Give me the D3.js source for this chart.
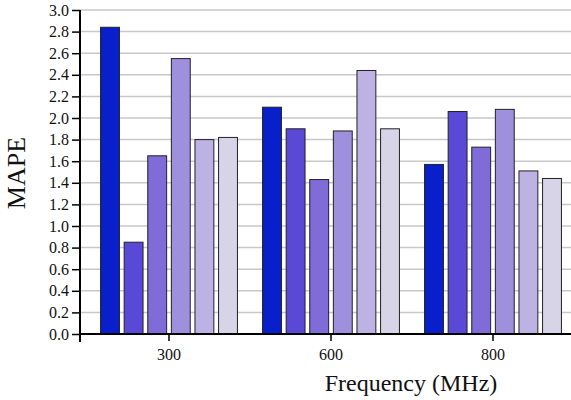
<!DOCTYPE html>
<meta charset="utf-8">
<script src="https://d3js.org/d3.v7.min.js"></script>
<style>
  body { margin: 0; background: #fff; }
</style>
<div id="chart"></div>
<script>
// data
var frequencies = ["300", "600", "800"];
var seriesNames = ["s1", "s2", "s3", "s4", "s5", "s6"];
var s1 = [2.84, 2.10, 1.57];
var s2 = [0.85, 1.90, 2.06];
var s3 = [1.65, 1.43, 1.73];
var s4 = [2.55, 1.88, 2.08];
var s5 = [1.80, 2.44, 1.51];
var s6 = [1.82, 1.90, 1.44];
var yTicks = [0, 0.2, 0.4, 0.6, 0.8, 1.0, 1.2, 1.4, 1.6, 1.8, 2.0, 2.2, 2.4, 2.6, 2.8, 3.0];

var colors = ["#0a1fcc", "#5a48d6", "#7f6cd9", "#9f90de", "#bcb2e4", "#d8d4e8"];
var series = [s1, s2, s3, s4, s5, s6];

var width = 571, height = 400;
var plotLeft = 80, plotTop = 10, plotBottom = 334;
var serif = "'Liberation Serif', 'Times New Roman', serif";

var svg = d3.select("#chart").append("svg")
    .attr("width", width)
    .attr("height", height)
    .attr("font-family", serif);

var y = d3.scaleLinear().domain([0, 3]).range([plotBottom, plotTop]);

var x0 = d3.scaleBand()
    .domain(frequencies)
    .range([88, 574])
    .paddingInner(0.155)
    .paddingOuter(0.0775);

var x1 = d3.scaleBand()
    .domain(seriesNames)
    .range([0, x0.bandwidth()])
    .paddingInner(0.2);

// grid lines
svg.append("g")
  .selectAll("line")
  .data(yTicks.slice(1))
  .join("line")
    .attr("x1", plotLeft)
    .attr("x2", width)
    .attr("y1", function(d) { return y(d); })
    .attr("y2", function(d) { return y(d); })
    .attr("stroke", "#c8c8c8")
    .attr("stroke-width", 1.5);

// bars
var groups = svg.append("g")
  .selectAll("g")
  .data(frequencies)
  .join("g")
    .attr("transform", function(d) { return "translate(" + x0(d) + ",0)"; });

groups.selectAll("rect")
  .data(function(d, i) {
    return series.map(function(s, j) { return {key: seriesNames[j], value: s[i], c: colors[j]}; });
  })
  .join("rect")
    .attr("x", function(d) { return x1(d.key); })
    .attr("y", function(d) { return y(d.value); })
    .attr("width", x1.bandwidth())
    .attr("height", function(d) { return y(0) - y(d.value); })
    .attr("fill", function(d) { return d.c; })
    .attr("stroke", "#222")
    .attr("stroke-width", 1);

// y axis
var yAxis = svg.append("g")
    .attr("transform", "translate(" + plotLeft + ",0)")
    .call(d3.axisLeft(y).tickValues(yTicks).tickFormat(d3.format(".1f")).tickSize(8).tickPadding(3))
    .attr("font-family", serif)
    .attr("font-size", 16);
yAxis.select(".domain").attr("stroke", "#000").attr("stroke-width", 2).attr("d", "M0," + plotTop + "V" + (plotBottom + 8));
yAxis.selectAll(".tick line").attr("stroke-width", 1.5);
yAxis.selectAll("text").attr("fill", "#111");

// x axis
var xAxis = svg.append("g")
    .attr("transform", "translate(0," + plotBottom + ")")
    .call(d3.axisBottom(x0).tickSize(7).tickPadding(8).tickSizeOuter(0))
    .attr("font-family", serif)
    .attr("font-size", 16);
xAxis.select(".domain").attr("stroke", "#000").attr("stroke-width", 2).attr("d", "M" + plotLeft + ",0H" + width);
xAxis.selectAll(".tick line").attr("stroke-width", 1.5);
xAxis.selectAll("text").attr("fill", "#111");

// axis titles
svg.append("text")
    .attr("transform", "translate(25,173) rotate(-90)")
    .attr("text-anchor", "middle")
    .attr("font-size", 26)
    .attr("fill", "#111")
    .text("MAPE");

svg.append("text")
    .attr("x", 411)
    .attr("y", 391)
    .attr("text-anchor", "middle")
    .attr("font-size", 24)
    .attr("fill", "#111")
    .text("Frequency (MHz)");
</script>
